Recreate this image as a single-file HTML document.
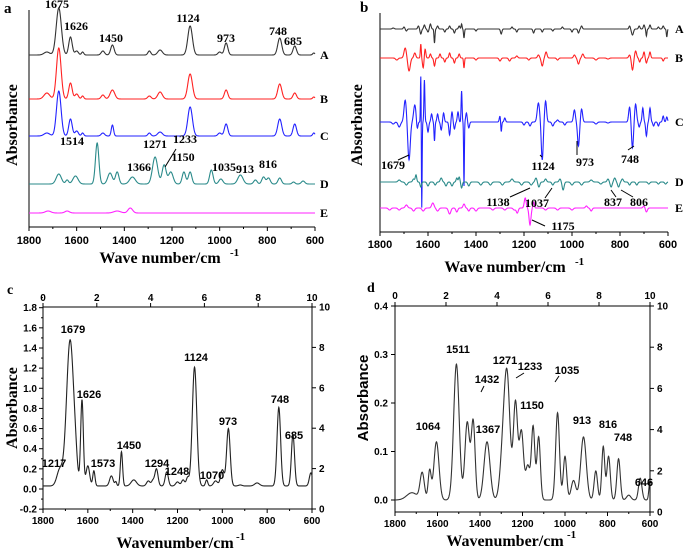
<!DOCTYPE html>
<html><head><meta charset="utf-8"><style>
html,body{margin:0;padding:0;background:#fff;}
svg{display:block;}
.serif{font-family:"Liberation Serif",serif;font-weight:bold;}
.sans{font-family:"Liberation Sans",sans-serif;font-weight:bold;}
</style></head><body>
<svg id="fig" width="685" height="552" viewBox="0 0 685 552" xmlns="http://www.w3.org/2000/svg"></svg>
<script>
// ---------- DATA ----------
// Panel a: peaks [wavenumber, height(px), width(cm-1)]
const aPeaksA=[[1725,3,10],[1675,47,9],[1626,18,6],[1600,4,6],[1575,3,4],[1490,4,6],[1450,10,6],[1295,4,5],[1250,5,8],[1124,29,8],[1000,3,6],[973,12,6],[748,17,7],[685,9,6],[605,2,4]];
const aPeaksB=[[1725,6,10],[1675,51,8],[1626,16,6],[1600,5,6],[1575,3,4],[1490,4,6],[1450,9,8],[1295,3,6],[1250,7,8],[1124,25,8],[973,9,6],[748,15,7],[685,6,6],[605,2,4]];
const aPeaksC=[[1725,3,10],[1675,45,8],[1626,17,6],[1600,5,6],[1575,3,4],[1490,3,6],[1450,11,4],[1295,3,5],[1250,4,8],[1124,29,8],[1000,3,6],[973,12,6],[748,17,7],[685,12,6],[605,3,4]];
const aPeaksD=[[1675,10,9],[1640,4,5],[1605,8,9],[1514,41,6],[1460,11,8],[1430,12,6],[1366,7,10],[1271,27,9],[1233,19,7],[1205,12,8],[1150,12,6],[1124,12,6],[1035,14,6],[995,5,7],[913,9,9],[850,4,6],[816,7,6],[795,6,6],[748,6,6],[690,2,5],[650,3,6]];
const aPeaksE=[[1720,2,10],[1640,2,8],[1430,2,12],[1375,5,8]];
const aBase=[55,99,136,184,213];
const aColors=["#333","#f22","#22f","#2a8a8a","#f2f"];
const aNames=["A","B","C","D","E"];
// Panel b: signed derivative features [wavenumber, amplitude(px, + = up), width]
const bA=[[1745,1,4],[1700,2,3],[1690,-2,3],[1640,3,3],[1630,-5,3],[1615,4,3],[1600,-3,3],[1590,5,3],[1573,-14,2],[1560,3,3],[1530,-3,3],[1510,3,3],[1490,-4,3],[1470,3,3],[1460,5,2],[1450,-9,2],[1400,-2,3],[1295,-5,3],[1250,2,3],[1230,-3,3],[1160,-4,3],[1124,-3,3],[1080,-2,3],[1040,2,3],[1000,-3,3],[973,-4,3],[960,3,3],[760,3,3],[748,-6,4],[720,3,3],[700,4,3],[690,-7,2],[675,4,3],[640,2,3],[620,3,3],[605,-8,2]];
const bB=[[1730,-2,5],[1695,10,5],[1679,-13,5],[1655,5,4],[1630,14,2],[1620,-10,3],[1612,9,3],[1590,4,3],[1573,-8,3],[1550,4,3],[1530,-4,3],[1510,5,3],[1490,-5,3],[1470,4,3],[1450,-10,2],[1400,-2,4],[1300,-3,4],[1260,-3,4],[1230,2,4],[1180,-2,4],[1140,3,4],[1124,-8,4],[1108,6,4],[1060,-2,4],[990,3,4],[973,-6,4],[955,4,4],[900,-2,5],[850,-1,5],[760,3,4],[748,-12,4],[735,7,4],[718,-4,3],[700,6,3],[690,-5,3],[675,6,3],[620,-3,3]];
const bC=[[1745,-2,5],[1720,-5,5],[1695,22,5],[1679,-38,5],[1655,17,5],[1645,-8,3],[1630,48,1.5],[1626,-87,1.5],[1615,42,2],[1600,-10,3],[1585,8,3],[1573,-19,2],[1560,8,3],[1545,-8,3],[1535,9,3],[1510,-13,3],[1500,10,3],[1490,-7,3],[1475,10,3],[1460,31,2],[1450,-64,1.5],[1440,9,3],[1430,-6,3],[1300,6,3],[1295,-11,2],[1280,4,3],[1200,-3,4],[1175,-4,4],[1140,19,5],[1124,-38,4],[1110,21,4],[1080,-4,4],[1060,2,4],[1030,-3,4],[990,12,4],[973,-24,4],[960,13,4],[900,-2,5],[850,-1,5],[760,15,4],[748,-26,4],[735,18,4],[720,-5,3],[705,14,3],[690,-14,3],[675,14,3],[660,-4,3],[640,-4,3],[620,6,3],[605,5,3]];
const bD=[[1720,2,5],[1690,-3,5],[1660,3,4],[1650,7,3],[1630,-5,3],[1600,-4,4],[1570,-3,4],[1545,4,4],[1525,-4,4],[1500,-4,4],[1480,4,3],[1470,5,3],[1460,-6,3],[1430,-4,4],[1380,-3,5],[1340,-3,5],[1290,-3,5],[1250,3,5],[1210,-3,5],[1170,-3,5],[1150,4,4],[1138,-5,4],[1110,3,4],[1080,-3,4],[1050,3,4],[1037,-8,4],[1000,-3,5],[960,-3,5],[920,2,5],[880,-2,5],[850,3,4],[837,-5,4],[822,4,4],[806,-5,4],[790,3,4],[760,-3,4],[730,-3,4],[680,-2,4],[640,-2,4],[610,-2,4]];
const bE=[[1760,-2,5],[1720,-2,5],[1690,3,5],[1660,-3,5],[1620,-3,5],[1580,5,5],[1560,-3,5],[1510,-6,5],[1480,-4,4],[1450,4,4],[1430,-3,4],[1400,-3,5],[1330,-2,5],[1280,-2,5],[1240,-2,5],[1228,-5,4],[1195,10,4],[1175,-17,4],[1160,6,3],[1110,-2,5],[1060,-2,5],[1000,-2,5],[940,2,4],[920,-3,4],[700,2,4],[690,-4,4]];
const bBase=[29,58,122,182,208];
// Panel c: peaks [wavenumber, absorbance, width]
const cBaseline=0.03;
const cPeaks=[[1725,0.16,13],[1679,1.45,16],[1655,0.12,8],[1626,0.85,6],[1600,0.2,8],[1573,0.15,5],[1495,0.1,8],[1475,0.04,4],[1450,0.34,5],[1395,0.06,12],[1330,0.05,8],[1310,0.05,6],[1294,0.17,7],[1248,0.14,7],[1200,0.04,8],[1175,0.06,7],[1155,0.08,6],[1124,1.18,10],[1070,0.06,5],[1030,0.05,9],[1000,0.16,8],[973,0.57,8],[920,0.01,8],[845,0.03,11],[748,0.78,8],[685,0.51,7],[605,0.13,7]];
// Panel d
const dPeaks=[[1720,0.015,25],[1672,0.055,10],[1637,0.06,7],[1605,0.12,12],[1511,0.28,13],[1460,0.16,11],[1432,0.16,9],[1367,0.12,14],[1290,0.11,14],[1271,0.22,13],[1233,0.2,10],[1205,0.14,10],[1175,0.07,10],[1150,0.15,8],[1124,0.13,8],[1035,0.18,9],[1000,0.09,8],[960,0.04,11],[913,0.13,13],[855,0.06,8],[820,0.11,7],[795,0.09,8],[748,0.085,8],[700,0.01,10],[646,0.045,8],[600,0.04,5]];
// Tick labels
const abXTicks=[1800,1600,1400,1200,1000,800,600];
const cYTicks=[-0.2,0,0.2,0.4,0.6,0.8,1,1.2,1.4,1.6,1.8];
const dYTicks=[0,0.1,0.2,0.3,0.4];
const topTicks=[0,2,4,6,8,10];

// ---------- HELPERS ----------
const NS="http://www.w3.org/2000/svg";
const svg=document.getElementById('fig');
function mk(tag,attrs,parent){const e=document.createElementNS(NS,tag);for(const k in attrs)e.setAttribute(k,attrs[k]);(parent||svg).appendChild(e);return e;}
function txt(s,x,y,cls,size,anchor,parent){const t=mk('text',{x:x,y:y,'font-size':size,'text-anchor':anchor||'middle','class':cls},parent);t.textContent=s;return t;}
function gsum(peaks,w,ws){let s=0;for(const p of peaks){const d=(w-p[0])/(p[2]*ws);s+=p[1]*Math.exp(-0.5*d*d);}return s;}
function line(x1,y1,x2,y2,col,sw,parent){return mk('line',{x1:x1,y1:y1,x2:x2,y2:y2,stroke:col||'#000','stroke-width':sw||1},parent);}
function curve(fx,fy,peaks,base,col,parent,ws){ws=ws||1;let d='';for(let w=1800;w>=600;w-=1){const x=fx(w),y=fy(base,gsum(peaks,w,ws));d+=(w===1800?'M':'L')+x.toFixed(2)+','+y.toFixed(2);}return mk('path',{d:d,fill:'none',stroke:col,'stroke-width':1.1},parent);}

// ---------- PANEL A ----------
const ga=mk('g',{});


const axX=w=>29+(1800-w)*(315-29)/1200;
txt('a',4,13,'serif',15,'start',ga);
line(29,10,29,227,'#000',1,ga);line(29,227,315,227,'#000',1,ga);
abXTicks.forEach(v=>{line(axX(v),227,axX(v),231,'#000',1,ga);const t=txt(String(v),axX(v),244,'sans',11,'middle',ga);t.setAttribute('font-weight','normal');});
[1700,1500,1300,1100,900,700].forEach(v=>line(axX(v),227,axX(v),229,'#000',1,ga));
const aSeries=[aPeaksA,aPeaksB,aPeaksC,aPeaksD,aPeaksE];
aSeries.forEach((pk,i)=>{const p=curve(axX,(b,v)=>b-v,pk,aBase[i],aColors[i],ga,1.2);


const l=txt(aNames[i],320,aBase[i]+4,'serif',12,'start',ga);

});
[['1675',57,8],['1626',76,30],['1450',111,42],['1124',188,22],['973',226,42],['748',278,35],['685',293,45],['1514',72,145],['1271',155,148],['1233',185,143],['1150',183,161],['1366',139,171],['1035',224,171],['913',245,173],['816',268,168]].forEach(a=>txt(a[0],a[1],a[2],'serif',12,'middle',ga));
line(165,167,176,149,'#000',1,ga);
const ayt=txt('Absorbance',0,0,'serif',16,'middle',ga);ayt.setAttribute('transform','translate(17,125) rotate(-90)');

txt('Wave number/cm',160,263,'serif',16,'middle',ga);
txt('-1',230,256,'serif',11,'start',ga);

// ---------- PANEL B ----------
const gb=mk('g',{});


const bxX=w=>380+(1800-w)*(668-380)/1200;
txt('b',360,12,'serif',15,'start',gb);
line(380,13,380,232,'#000',1,gb);line(380,232,668,232,'#000',1,gb);
abXTicks.forEach(v=>{line(bxX(v),232,bxX(v),236,'#000',1,gb);const t=txt(String(v),bxX(v),248,'sans',11,'middle',gb);t.setAttribute('font-weight','normal');});
[1700,1500,1300,1100,900,700].forEach(v=>line(bxX(v),232,bxX(v),234,'#000',1,gb));
[bA,bB,bC,bD,bE].forEach((pk,i)=>{const p=curve(bxX,(b,v)=>b-v,pk,bBase[i],aColors[i],gb,1);


const l=txt(aNames[i],675,bBase[i]+4,'serif',12,'start',gb);

});
[['1679',393,169],['1124',543,170],['973',585,166],['748',630,163],['1138',498,206],['1037',537,207],['837',613,206],['806',639,206],['1175',563,230]].forEach(a=>txt(a[0],a[1],a[2],'serif',12,'middle',gb));
line(398,160,409,155,'#000',1,gb);line(540,155,542,157,'#000',1,gb);line(577,141,577,155,'#000',1,gb);line(628,150,634,146,'#000',1,gb);
line(510,197,530,188,'#000',1,gb);line(545,198,552,188,'#000',1,gb);line(616,197,611,190,'#000',1,gb);line(633,197,621,190,'#000',1,gb);line(545,226,532,220,'#000',1,gb);
const byt=txt('Absorbance',0,0,'serif',16,'middle',gb);byt.setAttribute('transform','translate(362,125) rotate(-90)');
txt('Wave number/cm',505,272,'serif',16,'middle',gb);
txt('-1',575,265,'serif',11,'start',gb);

// ---------- PANEL C ----------
const gc=mk('g',{});


const cX=w=>43+(1800-w)*(312-43)/1200;
const cY=v=>489-v*(489-307.7)/1.8;
txt('c',7,294,'serif',14,'start',gc);
mk('rect',{x:43,y:307,width:269,height:202,fill:'none',stroke:'#000','stroke-width':1},gc);
abXTicks.forEach(v=>{line(cX(v),509,cX(v),513,'#000',1,gc);txt(String(v),cX(v),524,'sans',10,'middle',gc);});
[1700,1500,1300,1100,900,700].forEach(v=>line(cX(v),509,cX(v),511,'#000',1,gc));
cYTicks.forEach(v=>{line(39,cY(v),43,cY(v),'#000',1,gc);txt(v.toFixed(1),37,cY(v)+3.5,'sans',10,'end',gc);line(41,cY(v+0.1),43,cY(v+0.1),'#000',1,gc);});
topTicks.forEach(v=>{const x=43+v*26.9;line(x,307,x,303,'#000',1,gc);txt(String(v),x,301,'sans',10,'middle',gc);const y=509-v*20.2;line(312,y,316,y,'#000',1,gc);txt(String(v),319,y+3.5,'sans',10,'start',gc);});
const cp=curve(cX,(b,v)=>cY(b+v),cPeaks,cBaseline,'#222',gc,1);


[['1679',73,333],['1626',89,398],['1450',129,449],['1573',103,467],['1217',54,467],['1124',196,361],['973',228,425],['748',280,403],['685',294,439],['1294',157,467],['1248',177,475],['1070',212,479]].forEach(a=>txt(a[0],a[1],a[2],'sans',11,'middle',gc));
const cyt=txt('Absorbance',0,0,'serif',16,'middle',gc);cyt.setAttribute('transform','translate(17,408) rotate(-90)');
txt('Wavenumber/cm',175,548,'serif',16,'middle',gc);
txt('-1',236,540,'serif',11,'start',gc);

// ---------- PANEL D ----------
const gd=mk('g',{});


const dX=w=>395+(1800-w)*(650-395)/1200;
const dY=v=>500-v*485;
txt('d',367,292,'serif',14,'start',gd);
mk('rect',{x:395,y:306,width:255,height:206,fill:'none',stroke:'#000','stroke-width':1},gd);
abXTicks.forEach(v=>{line(dX(v),512,dX(v),516,'#000',1,gd);txt(String(v),dX(v),527,'sans',10,'middle',gd);});
[1700,1500,1300,1100,900,700].forEach(v=>line(dX(v),512,dX(v),514,'#000',1,gd));
dYTicks.forEach(v=>{line(391,dY(v),395,dY(v),'#000',1,gd);txt(v.toFixed(1),388,dY(v)+3.5,'sans',10,'end',gd);});
topTicks.forEach(v=>{const x=395+v*25.5;line(x,306,x,302,'#000',1,gd);txt(String(v),x,299,'sans',10,'middle',gd);const y=512-v*20.6;line(650,y,654,y,'#000',1,gd);txt(String(v),657,y+3.5,'sans',10,'start',gd);});
const dp=curve(dX,(b,v)=>dY(b+v),dPeaks,0,'#333',gd,1);


[['1064',428,430],['1511',458,353],['1432',487,383],['1367',488,433],['1271',505,364],['1233',530,370],['1150',532,409],['1035',567,374],['913',582,424],['816',608,428],['748',623,441],['646',644,486]].forEach(a=>txt(a[0],a[1],a[2],'sans',11,'middle',gd));
line(484,386,481,392,'#000',1,gd);line(524,373,516,378,'#000',1,gd);line(559,376,555,382,'#000',1,gd);line(652,482,647,484,'#000',1,gd);
const dyt=txt('Absorbance',0,0,'sans',15,'middle',gd);dyt.setAttribute('transform','translate(368,398) rotate(-90)');dyt.setAttribute('font-weight','normal');
txt('Wavenumber/cm',505,546,'serif',16,'middle',gd);
txt('-1',567,538,'serif',11,'start',gd);
</script>
</body></html>
